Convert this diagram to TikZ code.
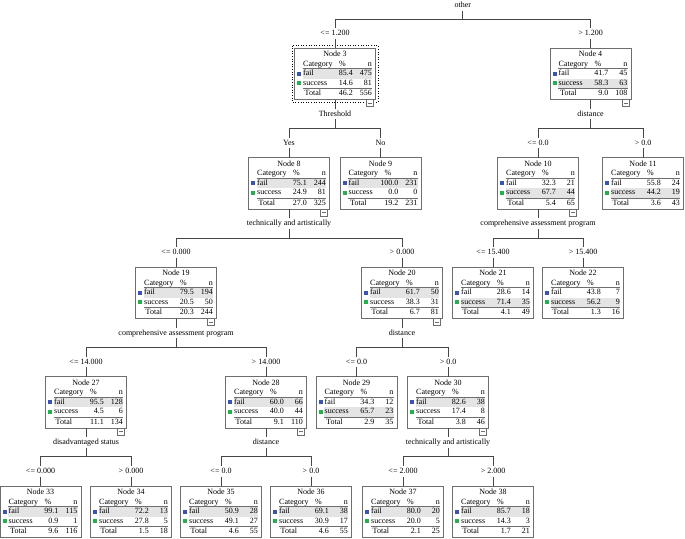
\documentclass[tikz,border=0pt]{standalone}
\usepackage{fontspec}
\setmainfont{Liberation Serif}
\usetikzlibrary{calc}
\definecolor{boxgray}{RGB}{110,110,110}
\definecolor{linegray}{RGB}{70,70,70}
\definecolor{rowshade}{RGB}{228,228,228}
\definecolor{failblue}{RGB}{58,83,180}
\definecolor{succgreen}{RGB}{34,177,76}

\tikzset{
  catframe/.style={draw=boxgray, line width=0.9pt, fill=white, minimum width=81pt, minimum height=51.5pt, inner sep=0pt, outer sep=0pt},
  cell/.style={inner sep=0pt, text height=5.5pt, text depth=1.5pt},
  rule/.style={draw=boxgray, line width=0.6pt},
  lbl/.style={inner sep=1.5pt, text height=5.5pt, text depth=1.5pt},
  conn/.style={draw=linegray, line width=0.8pt},
}

% one tree node: id, top centre, fail % n, success % n, total % n, shaded row
\newcommand{\catbox}[9]{%
  \node[catframe, anchor=north] (n#1) at (#2) {};
  \begin{scope}[shift={(n#1.north west)}]
    \fill[rowshade] (8,{11.5+9.5*#9}) rectangle (77.5,{21+9.5*#9});
    \node[cell] at (40.5,6.5) {Node #1};
    \node[cell, anchor=west] at (8.5,16) {Category};
    \node[cell] at (48,16) {\%};
    \node[cell, anchor=east] at (77.5,16) {n};
    \draw[rule] (8,20.5) -- (77.5,20.5);
    \fill[failblue] (2.5,23.5) rectangle (6.5,27.5);
    \node[cell, anchor=west] at (8.5,25.5) {fail};
    \node[cell, anchor=east] at (58.5,25.5) {#3};
    \node[cell, anchor=east] at (77.5,25.5) {#4};
    \fill[succgreen] (2.5,33) rectangle (6.5,37);
    \node[cell, anchor=west] at (8.5,35) {success};
    \node[cell, anchor=east] at (58.5,35) {#5};
    \node[cell, anchor=east] at (77.5,35) {#6};
    \draw[rule, line width=1pt] (8,40.5) -- (77.5,40.5);
    \node[cell, anchor=west] at (10,45.5) {Total};
    \node[cell, anchor=east] at (58.5,45.5) {#7};
    \node[cell, anchor=east] at (77.5,45.5) {#8};
  \end{scope}
}
% small collapse square under a node
\newcommand{\collapse}[1]{%
  \draw[rule, fill=white] ($(#1.south east)+(-9,0)$) rectangle ++(7,7);
  \draw[rule] ($(#1.south east)+(-7.5,3.5)$) -- ++(4,0);
}

\begin{document}
\begin{tikzpicture}[x=1pt, y=-1pt, font=\fontsize{8}{9.6}\selectfont]
    \useasboundingbox (0,0) rectangle (685,538);

    \catbox{3}{335,48}{85.4}{475}{14.6}{81}{46.2}{556}{1}
    \catbox{4}{590.5,48}{41.7}{45}{58.3}{63}{9.0}{108}{2}
    \catbox{8}{289,157.5}{75.1}{244}{24.9}{81}{27.0}{325}{1}
    \catbox{9}{380.5,157.5}{100.0}{231}{0.0}{0}{19.2}{231}{1}
    \catbox{10}{538,157.5}{32.3}{21}{67.7}{44}{5.4}{65}{2}
    \catbox{11}{643,157.5}{55.8}{24}{44.2}{19}{3.6}{43}{2}
    \catbox{19}{176,267}{79.5}{194}{20.5}{50}{20.3}{244}{1}
    \catbox{20}{402,267}{61.7}{50}{38.3}{31}{6.7}{81}{1}
    \catbox{21}{493,267}{28.6}{14}{71.4}{35}{4.1}{49}{2}
    \catbox{22}{583,267}{43.8}{7}{56.2}{9}{1.3}{16}{2}
    \catbox{27}{86,376.5}{95.5}{128}{4.5}{6}{11.1}{134}{1}
    \catbox{28}{266,376.5}{60.0}{66}{40.0}{44}{9.1}{110}{1}
    \catbox{29}{356.5,376.5}{34.3}{12}{65.7}{23}{2.9}{35}{2}
    \catbox{30}{448,376.5}{82.6}{38}{17.4}{8}{3.8}{46}{1}
    \catbox{33}{40.5,486}{99.1}{115}{0.9}{1}{9.6}{116}{1}
    \catbox{34}{131,486}{72.2}{13}{27.8}{5}{1.5}{18}{1}
    \catbox{35}{221,486}{50.9}{28}{49.1}{27}{4.6}{55}{1}
    \catbox{36}{311,486}{69.1}{38}{30.9}{17}{4.6}{55}{1}
    \catbox{37}{403,486}{80.0}{20}{20.0}{5}{2.1}{25}{1}
    \catbox{38}{493,486}{85.7}{18}{14.3}{3}{1.7}{21}{1}

    % selected node
    \draw[dotted, line width=0.6pt] ($(n3.north west)+(-2.5,-2.5)$) rectangle ($(n3.south east)+(2.5,2.5)$);

    \collapse{n3}
    \collapse{n4}
    \collapse{n8}
    \collapse{n10}
    \collapse{n19}
    \collapse{n20}
    \collapse{n27}
    \collapse{n28}
    \collapse{n30}

    % split variables
    \node[lbl] (s0) at (462.75,6) {other};
    \node[lbl] (s3) at (335,114) {Threshold};
    \node[lbl] (s4) at (590.5,114) {distance};
    \node[lbl] (s8) at (289,223.5) {technically and artistically};
    \node[lbl] (s10) at (538,223.5) {comprehensive assessment program};
    \node[lbl] (s19) at (176,333) {comprehensive assessment program};
    \node[lbl] (s20) at (402,333) {distance};
    \node[lbl] (s27) at (86,442.5) {disadvantaged status};
    \node[lbl] (s28) at (266,442.5) {distance};
    \node[lbl] (s30) at (448,442.5) {technically and artistically};

    \coordinate (j0) at (462.75,19);
    \coordinate (j3) at (335,128);
    \coordinate (j4) at (590.5,128);
    \coordinate (j8) at (289,238);
    \coordinate (j10) at (538,238);
    \coordinate (j19) at (176,347);
    \coordinate (j20) at (402,347);
    \coordinate (j27) at (86,456.5);
    \coordinate (j28) at (266,456.5);
    \coordinate (j30) at (448,456.5);

    % split values
    \node[lbl] (b3) at (335,33.5) {<= 1.200};
    \node[lbl] (b4) at (590.5,33.5) {> 1.200};
    \node[lbl] (b8) at (289,143) {Yes};
    \node[lbl] (b9) at (380.5,143) {No};
    \node[lbl] (b10) at (538,143) {<= 0.0};
    \node[lbl] (b11) at (643,143) {> 0.0};
    \node[lbl] (b19) at (176,252.5) {<= 0.000};
    \node[lbl] (b20) at (402,252.5) {> 0.000};
    \node[lbl] (b21) at (493,252.5) {<= 15.400};
    \node[lbl] (b22) at (583,252.5) {> 15.400};
    \node[lbl] (b27) at (86,362) {<= 14.000};
    \node[lbl] (b28) at (266,362) {> 14.000};
    \node[lbl] (b29) at (356.5,362) {<= 0.0};
    \node[lbl] (b30) at (448,362) {> 0.0};
    \node[lbl] (b33) at (40.5,471.5) {<= 0.000};
    \node[lbl] (b34) at (131,471.5) {> 0.000};
    \node[lbl] (b35) at (221,471.5) {<= 0.0};
    \node[lbl] (b36) at (311,471.5) {> 0.0};
    \node[lbl] (b37) at (403,471.5) {<= 2.000};
    \node[lbl] (b38) at (493,471.5) {> 2.000};

    \draw[conn] (s0) -- (j0);
    \draw[conn] (j0) -| (b3);
    \draw[conn] (j0) -| (b4);
    \draw[conn] (b3) -- (n3);
    \draw[conn] (b4) -- (n4);

    \draw[conn] (n3) -- (s3);
    \draw[conn] (s3) -- (j3);
    \draw[conn] (j3) -| (b8);
    \draw[conn] (j3) -| (b9);
    \draw[conn] (b8) -- (n8);
    \draw[conn] (b9) -- (n9);

    \draw[conn] (n4) -- (s4);
    \draw[conn] (s4) -- (j4);
    \draw[conn] (j4) -| (b10);
    \draw[conn] (j4) -| (b11);
    \draw[conn] (b10) -- (n10);
    \draw[conn] (b11) -- (n11);

    \draw[conn] (n8) -- (s8);
    \draw[conn] (s8) -- (j8);
    \draw[conn] (j8) -| (b19);
    \draw[conn] (j8) -| (b20);
    \draw[conn] (b19) -- (n19);
    \draw[conn] (b20) -- (n20);

    \draw[conn] (n10) -- (s10);
    \draw[conn] (s10) -- (j10);
    \draw[conn] (j10) -| (b21);
    \draw[conn] (j10) -| (b22);
    \draw[conn] (b21) -- (n21);
    \draw[conn] (b22) -- (n22);

    \draw[conn] (n19) -- (s19);
    \draw[conn] (s19) -- (j19);
    \draw[conn] (j19) -| (b27);
    \draw[conn] (j19) -| (b28);
    \draw[conn] (b27) -- (n27);
    \draw[conn] (b28) -- (n28);

    \draw[conn] (n20) -- (s20);
    \draw[conn] (s20) -- (j20);
    \draw[conn] (j20) -| (b29);
    \draw[conn] (j20) -| (b30);
    \draw[conn] (b29) -- (n29);
    \draw[conn] (b30) -- (n30);

    \draw[conn] (n27) -- (s27);
    \draw[conn] (s27) -- (j27);
    \draw[conn] (j27) -| (b33);
    \draw[conn] (j27) -| (b34);
    \draw[conn] (b33) -- (n33);
    \draw[conn] (b34) -- (n34);

    \draw[conn] (n28) -- (s28);
    \draw[conn] (s28) -- (j28);
    \draw[conn] (j28) -| (b35);
    \draw[conn] (j28) -| (b36);
    \draw[conn] (b35) -- (n35);
    \draw[conn] (b36) -- (n36);

    \draw[conn] (n30) -- (s30);
    \draw[conn] (s30) -- (j30);
    \draw[conn] (j30) -| (b37);
    \draw[conn] (j30) -| (b38);
    \draw[conn] (b37) -- (n37);
    \draw[conn] (b38) -- (n38);
\end{tikzpicture}
\end{document}
